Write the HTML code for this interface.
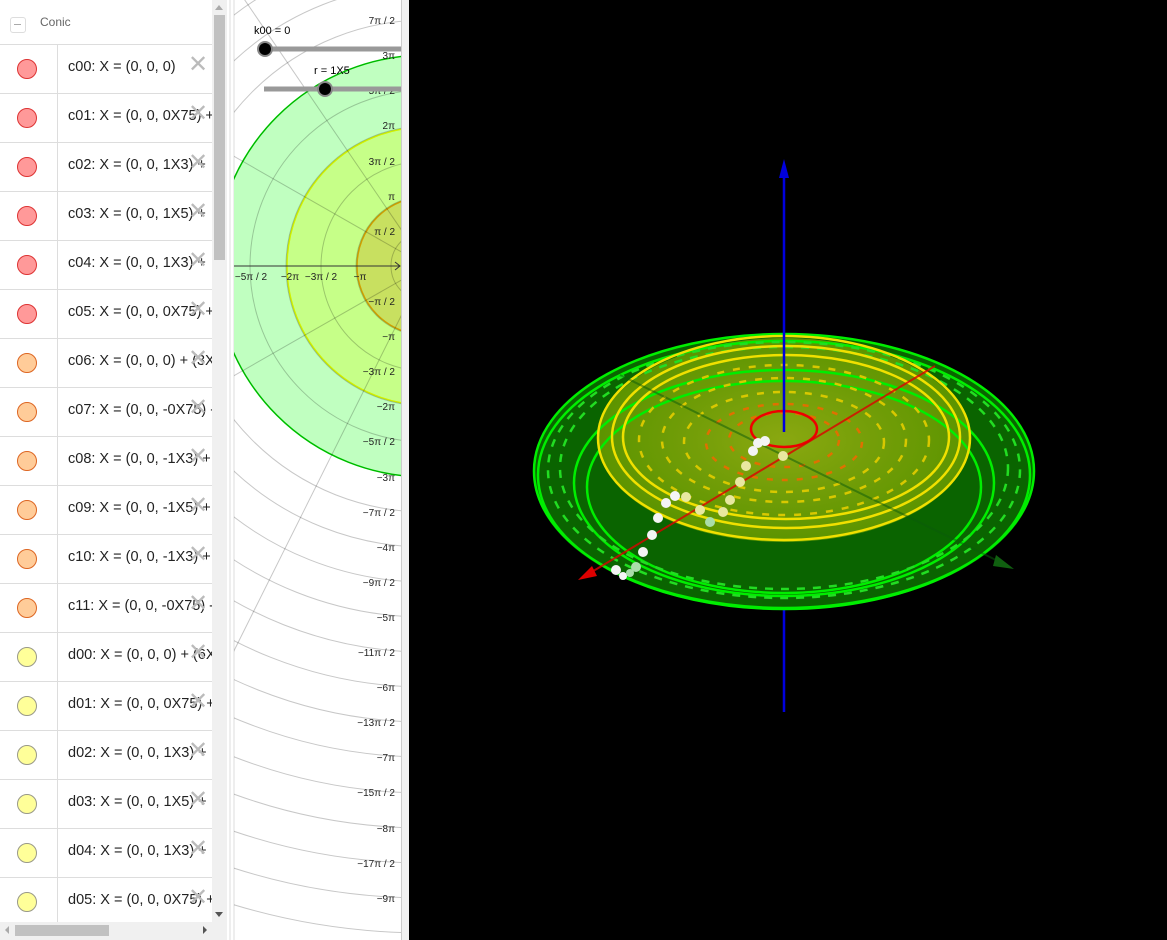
<!DOCTYPE html>
<html><head><meta charset="utf-8"><style>
html,body{margin:0;padding:0;width:1167px;height:940px;overflow:hidden;background:#fff;font-family:"Liberation Sans",sans-serif}
#list{position:absolute;left:0;top:0;width:212px;height:922px;overflow:hidden;background:#fff}
.hdr{position:absolute;left:0;top:0;width:212px;height:44px;border-bottom:1px solid #ddd}
.row{position:absolute;left:0;width:212px;height:48px;border-bottom:1px solid #ddd}
.row .c{position:absolute;left:17px;top:14px;width:18px;height:18px;border-radius:50%;border:1px solid}
.row .v{position:absolute;left:57px;top:0;width:1px;height:48px;background:#ddd}
.row .t{position:absolute;left:68px;top:14px;font-size:14.5px;color:#222;white-space:nowrap}
.row .x{position:absolute;left:188px;top:6px;font-size:24px;color:#bbb;font-weight:300;line-height:28px}
</style></head><body>
<div id="list">
<div class="hdr"><div style="position:absolute;left:10px;top:17px;width:14px;height:14px;border:1px solid #ddd;border-radius:3px"></div><div style="position:absolute;left:14px;top:24px;width:7px;height:1px;background:#aaa"></div><span style="position:absolute;left:40px;top:15px;font-size:12px;color:#666">Conic</span></div>
<div class="row" style="top:45px"><div class="c" style="background:#f99;border-color:#d33"></div><div class="v"></div><div class="t">c00: X = (0, 0, 0)</div><div class="x">✕</div></div>
<div class="row" style="top:94px"><div class="c" style="background:#f99;border-color:#d33"></div><div class="v"></div><div class="t">c01: X = (0, 0, 0X75) +</div><div class="x">✕</div></div>
<div class="row" style="top:143px"><div class="c" style="background:#f99;border-color:#d33"></div><div class="v"></div><div class="t">c02: X = (0, 0, 1X3) +</div><div class="x">✕</div></div>
<div class="row" style="top:192px"><div class="c" style="background:#f99;border-color:#d33"></div><div class="v"></div><div class="t">c03: X = (0, 0, 1X5) +</div><div class="x">✕</div></div>
<div class="row" style="top:241px"><div class="c" style="background:#f99;border-color:#d33"></div><div class="v"></div><div class="t">c04: X = (0, 0, 1X3) +</div><div class="x">✕</div></div>
<div class="row" style="top:290px"><div class="c" style="background:#f99;border-color:#d33"></div><div class="v"></div><div class="t">c05: X = (0, 0, 0X75) +</div><div class="x">✕</div></div>
<div class="row" style="top:339px"><div class="c" style="background:#fc9;border-color:#d62"></div><div class="v"></div><div class="t">c06: X = (0, 0, 0) + (3X</div><div class="x">✕</div></div>
<div class="row" style="top:388px"><div class="c" style="background:#fc9;border-color:#d62"></div><div class="v"></div><div class="t">c07: X = (0, 0, -0X75) -</div><div class="x">✕</div></div>
<div class="row" style="top:437px"><div class="c" style="background:#fc9;border-color:#d62"></div><div class="v"></div><div class="t">c08: X = (0, 0, -1X3) +</div><div class="x">✕</div></div>
<div class="row" style="top:486px"><div class="c" style="background:#fc9;border-color:#d62"></div><div class="v"></div><div class="t">c09: X = (0, 0, -1X5) +</div><div class="x">✕</div></div>
<div class="row" style="top:535px"><div class="c" style="background:#fc9;border-color:#d62"></div><div class="v"></div><div class="t">c10: X = (0, 0, -1X3) +</div><div class="x">✕</div></div>
<div class="row" style="top:584px"><div class="c" style="background:#fc9;border-color:#d62"></div><div class="v"></div><div class="t">c11: X = (0, 0, -0X75) -</div><div class="x">✕</div></div>
<div class="row" style="top:633px"><div class="c" style="background:#ff9;border-color:#998"></div><div class="v"></div><div class="t">d00: X = (0, 0, 0) + (6X</div><div class="x">✕</div></div>
<div class="row" style="top:682px"><div class="c" style="background:#ff9;border-color:#998"></div><div class="v"></div><div class="t">d01: X = (0, 0, 0X75) +</div><div class="x">✕</div></div>
<div class="row" style="top:731px"><div class="c" style="background:#ff9;border-color:#998"></div><div class="v"></div><div class="t">d02: X = (0, 0, 1X3) +</div><div class="x">✕</div></div>
<div class="row" style="top:780px"><div class="c" style="background:#ff9;border-color:#998"></div><div class="v"></div><div class="t">d03: X = (0, 0, 1X5) +</div><div class="x">✕</div></div>
<div class="row" style="top:829px"><div class="c" style="background:#ff9;border-color:#998"></div><div class="v"></div><div class="t">d04: X = (0, 0, 1X3) +</div><div class="x">✕</div></div>
<div class="row" style="top:878px;height:44px;border-bottom:none"><div class="c" style="background:#ff9;border-color:#998"></div><div class="v" style="height:44px"></div><div class="t">d05: X = (0, 0, 0X75) +</div><div class="x">✕</div></div>
</div>
<svg width="1167" height="940" style="position:absolute;left:0;top:0;display:block" xmlns="http://www.w3.org/2000/svg">
<defs><clipPath id="mp"><rect x="234" y="0" width="167" height="940"/></clipPath>
<radialGradient id="yg" cx="0.5" cy="0.5" r="0.5"><stop offset="0" stop-color="#8aa810"/><stop offset="1" stop-color="#5c9400"/></radialGradient></defs>
<rect x="212" y="0" width="15" height="922" fill="#f0f0f0"/>
<rect x="214" y="15" width="11" height="245" fill="#c1c1c1"/>
<path d="M215 10 L219 5 L223 10Z" fill="#aaa"/><path d="M215 912 L219 917 L223 912Z" fill="#555"/>
<rect x="0" y="922" width="227" height="18" fill="#f0f0f0"/>
<rect x="15" y="925" width="94" height="11" fill="#c1c1c1"/>
<path d="M9 926 L5 930 L9 934Z" fill="#aaa"/><path d="M203 926 L207 930 L203 934Z" fill="#555"/>
<rect x="227" y="0" width="7" height="940" fill="#fff"/>
<line x1="230" y1="0" x2="230" y2="940" stroke="#ddd"/>
<line x1="234" y1="0" x2="234" y2="940" stroke="#ddd"/>
<g clip-path="url(#mp)">
<circle cx="426" cy="266" r="211" fill="#c0ffc0" stroke="#00e000" stroke-width="1.5"/>
<circle cx="426" cy="266" r="139" fill="#c6ff88" stroke="#d0f000" stroke-width="1.5"/>
<circle cx="426" cy="266" r="69" fill="#c8e060" stroke="#d0a000" stroke-width="1.5"/>
<g fill="none" stroke="#000" stroke-opacity="0.22" stroke-width="1">
<circle cx="426" cy="266" r="35"/><circle cx="426" cy="266" r="70"/><circle cx="426" cy="266" r="105"/><circle cx="426" cy="266" r="140"/><circle cx="426" cy="266" r="176"/><circle cx="426" cy="266" r="211"/><circle cx="426" cy="266" r="246"/><circle cx="426" cy="266" r="281"/><circle cx="426" cy="266" r="316"/><circle cx="426" cy="266" r="351"/><circle cx="426" cy="266" r="386"/><circle cx="426" cy="266" r="421"/><circle cx="426" cy="266" r="456"/><circle cx="426" cy="266" r="491"/><circle cx="426" cy="266" r="527"/><circle cx="426" cy="266" r="562"/><circle cx="426" cy="266" r="597"/><circle cx="426" cy="266" r="632"/><circle cx="426" cy="266" r="667"/><circle cx="426" cy="266" r="702"/><circle cx="426" cy="266" r="737"/>
<line x1="426" y1="266" x2="-130" y2="-550"/><line x1="426" y1="266" x2="-460" y2="-240"/><line x1="426" y1="266" x2="-460" y2="772"/><line x1="426" y1="266" x2="-90" y2="1300"/>
</g>
<line x1="234" y1="266" x2="400" y2="266" stroke="#333"/>
<path d="M395 262 L400 266 L395 270" fill="none" stroke="#333"/>
<g font-size="10" fill="#222" text-anchor="end">
<text x="395" y="24">7π / 2</text><text x="395" y="59">3π</text><text x="395" y="94">5π / 2</text><text x="395" y="129">2π</text><text x="395" y="165">3π / 2</text><text x="395" y="200">π</text><text x="395" y="235">π / 2</text><text x="395" y="305">−π / 2</text><text x="395" y="340">−π</text><text x="395" y="375">−3π / 2</text><text x="395" y="410">−2π</text><text x="395" y="445">−5π / 2</text><text x="395" y="481">−3π</text><text x="395" y="516">−7π / 2</text><text x="395" y="551">−4π</text><text x="395" y="586">−9π / 2</text><text x="395" y="621">−5π</text><text x="395" y="656">−11π / 2</text><text x="395" y="691">−6π</text><text x="395" y="726">−13π / 2</text><text x="395" y="761">−7π</text><text x="395" y="796">−15π / 2</text><text x="395" y="832">−8π</text><text x="395" y="867">−17π / 2</text><text x="395" y="902">−9π</text>
</g>
<g font-size="10" fill="#222" text-anchor="middle">
<text x="251" y="280">−5π / 2</text><text x="290" y="280">−2π</text><text x="321" y="280">−3π / 2</text><text x="360" y="280">−π</text>
</g>
<line x1="265" y1="49" x2="402" y2="49" stroke="#999" stroke-width="5"/>
<circle cx="265" cy="49" r="8" fill="#888"/><circle cx="265" cy="49" r="6" fill="#000"/>
<text x="254" y="34" font-size="11" fill="#000">k00 = 0</text>
<line x1="264" y1="89" x2="402" y2="89" stroke="#999" stroke-width="5"/>
<circle cx="325" cy="89" r="8" fill="#888"/><circle cx="325" cy="89" r="6" fill="#000"/>
<text x="314" y="74" font-size="11" fill="#000">r = 1X5</text>
</g>
<rect x="401" y="0" width="8" height="940" fill="#f2f2f2"/>
<line x1="401.5" y1="0" x2="401.5" y2="940" stroke="#ccc"/>
<rect x="409" y="0" width="758" height="940" fill="#000"/>
<line x1="784" y1="560" x2="784" y2="712" stroke="#0000dd" stroke-width="2.5"/>
<ellipse cx="784" cy="472" rx="251" ry="138" fill="#0a6400"/>
<ellipse cx="784" cy="440" rx="186" ry="102" fill="url(#yg)"/>
<g fill="none" stroke="#00ee00" stroke-width="2.5">
<ellipse cx="784" cy="471" rx="250" ry="137"/><ellipse cx="784" cy="475" rx="246" ry="134"/>
<ellipse cx="784" cy="483" rx="210" ry="113"/><ellipse cx="784" cy="487" rx="197" ry="106"/>
</g>
<g fill="none" stroke="#22dd22" stroke-width="2.5" stroke-dasharray="8 8">
<ellipse cx="784" cy="470" rx="236" ry="128"/><ellipse cx="784" cy="468" rx="224" ry="121"/>
</g>
<g fill="none" stroke="#f0e000" stroke-width="2.5">
<ellipse cx="784" cy="438" rx="186" ry="102"/><ellipse cx="786" cy="437" rx="174" ry="91"/><ellipse cx="786" cy="437" rx="163" ry="82"/>
</g>
<g fill="none" stroke="#d8c800" stroke-width="2.5" stroke-dasharray="7 9">
<ellipse cx="784" cy="440" rx="145" ry="75"/><ellipse cx="784" cy="440" rx="122" ry="62"/><ellipse cx="784" cy="442" rx="100" ry="50"/>
</g>
<g fill="none" stroke="#e07000" stroke-width="2.5" stroke-dasharray="6 9">
<ellipse cx="784" cy="442" rx="78" ry="38"/><ellipse cx="784" cy="440" rx="55" ry="27"/>
</g>
<ellipse cx="784" cy="429" rx="33" ry="18" fill="none" stroke="#ee0000" stroke-width="2.5"/>
<line x1="590" y1="573" x2="935" y2="366" stroke="#dd0000" stroke-width="2" stroke-opacity="0.8"/>
<path d="M578 580 L592 566 L597 576Z" fill="#dd0000"/>
<line x1="620" y1="375" x2="1000" y2="562" stroke="#0a5a0a" stroke-width="2" stroke-opacity="0.5"/>
<path d="M1014 569 L996 555 L993 566Z" fill="#106010"/>
<line x1="784" y1="175" x2="784" y2="432" stroke="#0000dd" stroke-width="2.5"/>
<path d="M784 159 L779 178 L789 178Z" fill="#0000dd"/>
<g fill="#f4f4f4">
<circle cx="616" cy="570" r="5"/><circle cx="623" cy="576" r="4"/><circle cx="643" cy="552" r="5"/><circle cx="652" cy="535" r="5"/><circle cx="658" cy="518" r="5"/><circle cx="666" cy="503" r="5"/><circle cx="675" cy="496" r="5"/><circle cx="758" cy="443" r="5"/><circle cx="765" cy="441" r="5"/><circle cx="753" cy="451" r="5"/>
</g>
<g fill="#e8e8a0">
<circle cx="686" cy="497" r="5"/><circle cx="746" cy="466" r="5"/><circle cx="740" cy="482" r="5"/><circle cx="730" cy="500" r="5"/><circle cx="723" cy="512" r="5"/><circle cx="783" cy="456" r="5"/><circle cx="700" cy="510" r="5"/>
</g>
<g fill="#aaddaa"><circle cx="636" cy="567" r="5"/><circle cx="630" cy="573" r="4"/><circle cx="710" cy="522" r="5"/></g>
</svg>
</body></html>
